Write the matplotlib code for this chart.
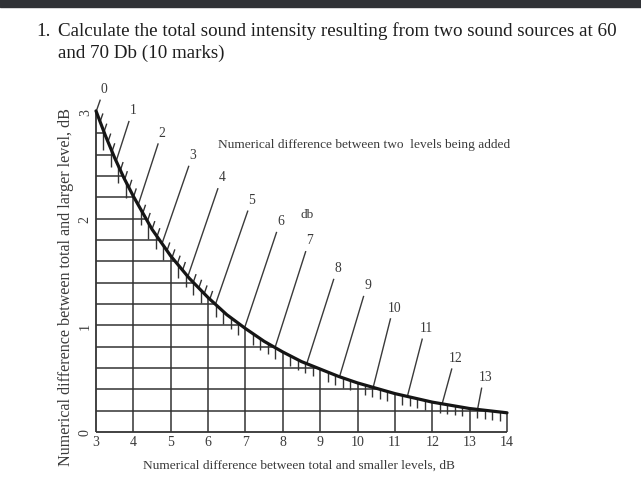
import numpy as np
import matplotlib
matplotlib.use("Agg")
import matplotlib.pyplot as plt

# ---------------- data ----------------
title_lines = ["1.  Calculate the total sound intensity resulting from two sound sources at 60",
               "and 70 Db (10 marks)"]
x_label = "Numerical difference between total and smaller levels, dB"
y_label = "Numerical difference between total and larger level, dB"
note_text = "Numerical difference between two  levels being added"
note_unit = "db"

x_ticks = [3, 4, 5, 6, 7, 8, 9, 10, 11, 12, 13, 14]
y_ticks = [0, 1, 2, 3]
h_grid = [0.2, 0.4, 0.6, 0.8, 1.0, 1.2, 1.4, 1.6, 1.8, 2.0, 2.2, 2.4, 2.6, 2.8]

# curve: total-minus-smaller (x) vs total-minus-larger (y)
curve_x = [3.0, 3.25, 3.5, 3.75, 4.0, 4.5, 5.0, 5.5, 6.0, 6.5, 7.0, 7.5, 8.0,
           8.5, 9.0, 9.5, 10.0, 10.5, 11.0, 11.5, 12.0, 12.5, 13.0, 13.5, 14.0]
curve_y = [3.01, 2.78, 2.57, 2.38, 2.21, 1.90, 1.65, 1.44, 1.26, 1.10, 0.97, 0.85, 0.75,
           0.66, 0.59, 0.52, 0.46, 0.41, 0.36, 0.32, 0.28, 0.25, 0.22, 0.20, 0.18]

# labelled lines "difference between the two levels"
diff_labels = [0, 1, 2, 3, 4, 5, 6, 7, 8, 9, 10, 11, 12, 13]
diff_top_x = [3.11, 3.88, 4.66, 5.48, 6.26, 7.06, 7.83, 8.61, 9.36, 10.16, 10.88, 11.73, 12.52, 13.32]
diff_top_y = [3.11, 2.91, 2.70, 2.49, 2.28, 2.07, 1.87, 1.69, 1.43, 1.27, 1.06, 0.87, 0.59, 0.41]

# ---------------- figure ----------------
W, H = 641, 485
fig = plt.figure(figsize=(W / 100, H / 100), dpi=100)
fig.patch.set_facecolor("white")

# dark bar at the top of the page
fig.add_artist(plt.Rectangle((0, 1 - 8 / H), 1, 8 / H, transform=fig.transFigure,
                             color="#303236", zorder=0))

serif = ["Liberation Serif", "DejaVu Serif"]
tfs = 13.7
fig.text(36 / W, 1 - 31 / H, "1.", family=serif, fontsize=tfs, color="#1e1e1e", va="center")
fig.text(58 / W, 1 - 31 / H, title_lines[0][4:], family=serif, fontsize=tfs, color="#1e1e1e", va="center")
fig.text(58 / W, 1 - 53 / H, title_lines[1], family=serif, fontsize=tfs, color="#1e1e1e", va="center")

ax_l, ax_r, ax_b, ax_t = 96, 507, 433, 113   # pixel frame of the data area
ax = fig.add_axes([ax_l / W, 1 - ax_b / H, (ax_r - ax_l) / W, (ax_b - ax_t) / H])
ax.set_xlim(3, 14)
ax.set_ylim(0, 3)
for s in ax.spines.values():
    s.set_visible(False)
ax.patch.set_alpha(0)

px_x = (ax_r - ax_l) / 11.0
px_y = (ax_b - ax_t) / 3.0

cx = np.array(curve_x)
cy = np.array(curve_y)
cd = cx - cy

lc = "#333333"
tc = "#3a3a3a"

# axes lines
ax.vlines(3, 0, cy[0], color=lc, lw=1.3, clip_on=False)
ax.hlines(0, 3, 14, color=lc, lw=1.3, clip_on=False)

# grid under the curve
for yv in h_grid:
    xe = np.interp(yv, cy[::-1], cx[::-1])
    ax.hlines(yv, 3, xe, color=lc, lw=1.1, clip_on=False)
for xv in x_ticks[1:]:
    ye = np.interp(xv, cx, cy)
    ax.vlines(xv, 0, ye, color=lc, lw=1.1, clip_on=False)

# the curve
ax.plot(cx, cy, color="#151515", lw=2.3, solid_capstyle="round", clip_on=False, zorder=5)

# vertical hairs below curve
for xv in np.arange(3.2, 13.95, 0.2):
    if abs(xv - round(xv)) < 1e-6:
        continue
    ye = np.interp(xv, cx, cy)
    slope = abs(np.interp(xv + 0.05, cx, cy) - np.interp(xv - 0.05, cx, cy)) / 0.1
    ln = 0.08 + 0.11 * slope
    ax.vlines(xv, ye - ln, ye, color=lc, lw=1.0, clip_on=False)

# labelled difference lines
sx = np.interp(diff_labels, cd, cx)
sy = np.interp(sx, cx, cy)
vec_px = []
for i, d in enumerate(diff_labels):
    ax.plot([sx[i], diff_top_x[i]], [sy[i], diff_top_y[i]], color="#3a3a3a", lw=1.0, clip_on=False)
    ax.annotate(str(d), xy=(diff_top_x[i], diff_top_y[i]), xytext=(3, 8.5),
                textcoords="offset points", ha="center", va="center",
                family=serif, fontsize=9.8, color=tc, annotation_clip=False)
    vx = (diff_top_x[i] - sx[i]) * px_x
    vy = (diff_top_y[i] - sy[i]) * px_y
    n = np.hypot(vx, vy)
    vec_px.append((vx / n, vy / n))
vec_px = np.array(vec_px)

# slanted hairs above the steep part of the curve
for dv in np.arange(0.2, 5.0, 0.2):
    if abs(dv - round(dv)) < 1e-6:
        continue
    x0 = np.interp(dv, cd, cx)
    y0 = np.interp(x0, cx, cy)
    ux = np.interp(dv, diff_labels, vec_px[:, 0])
    uy = np.interp(dv, diff_labels, vec_px[:, 1])
    L = 8.0
    ax.plot([x0, x0 + ux * L / px_x], [y0, y0 + uy * L / px_y], color=lc, lw=1.0, clip_on=False)

# ticks
ax.set_xticks(x_ticks)
ax.set_xticklabels([str(v) for v in x_ticks], family=serif, fontsize=10, color=tc)
ax.set_yticks(y_ticks)
ax.set_yticklabels([str(v) for v in y_ticks], family=serif, fontsize=10, color=tc,
                   rotation=90, va="center")
ax.tick_params(axis="x", length=0, pad=2)
ax.tick_params(axis="y", length=0, pad=3)

# texts
ax.text(6.26, 2.70, note_text, family=serif, fontsize=9.6, color=tc, ha="left", va="center")
ax.text(8.64, 2.04, note_unit, family=serif, fontsize=9.5, color=tc, ha="center", va="center")
fig.text(299 / W, 1 - 466 / H, x_label, family=serif, fontsize=9.65, color=tc,
         ha="center", va="center")
fig.text(66 / W, 1 - 287 / H, y_label, family=serif, fontsize=11.6, color=tc,
         ha="center", va="center", rotation=90)

fig.savefig("out.png", dpi=100, facecolor="white")
